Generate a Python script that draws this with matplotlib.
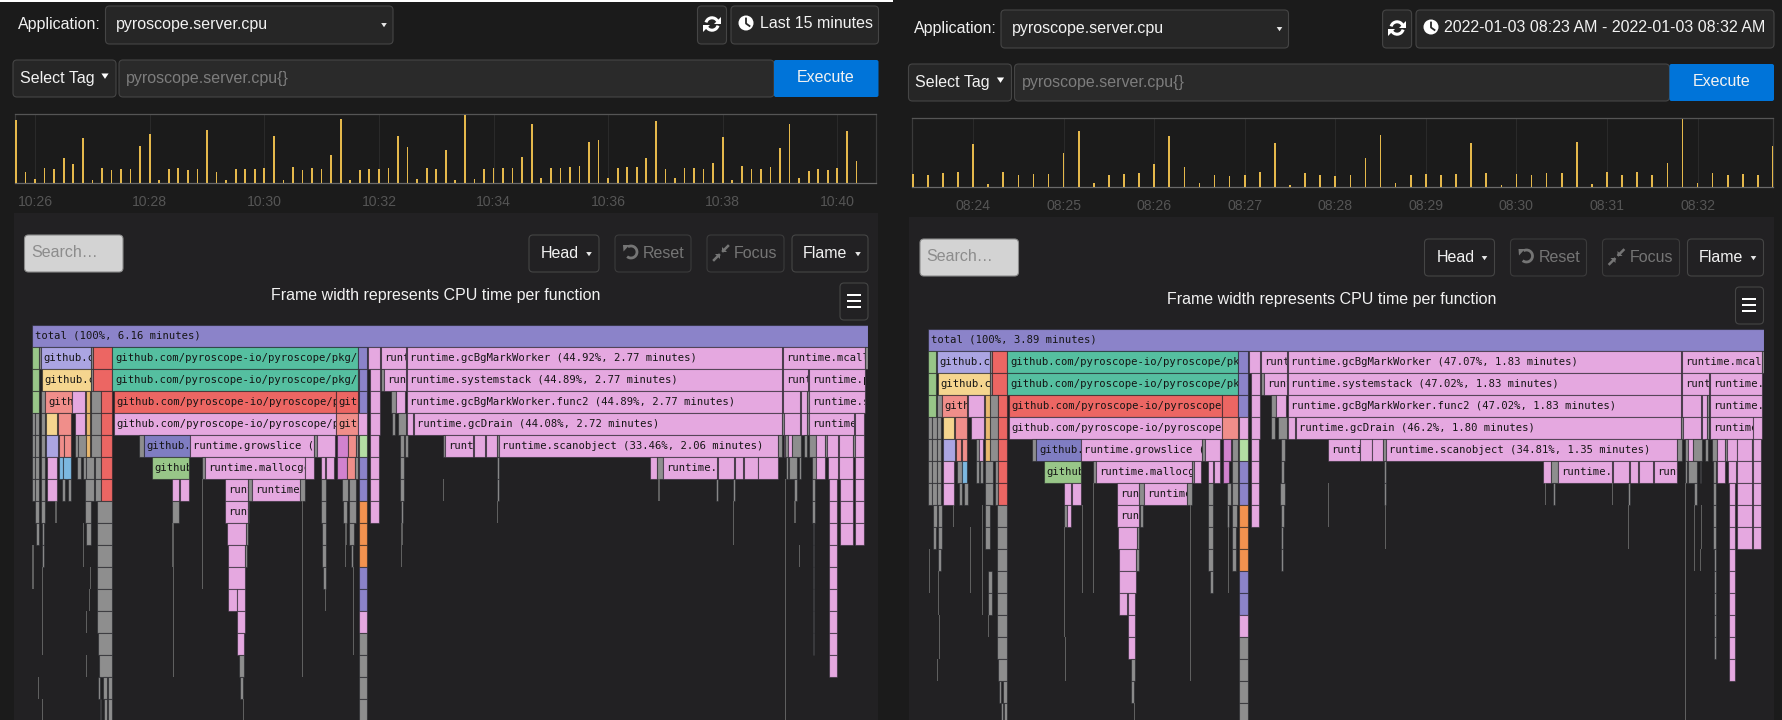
import math
import matplotlib
matplotlib.use("Agg")
import matplotlib.pyplot as plt
from matplotlib.patches import FancyBboxPatch, Rectangle, Polygon, Circle, Arc

APP = "pyroscope.server.cpu"
QUERY = "pyroscope.server.cpu{}"
TITLE = "Frame width represents CPU time per function"
RANGE_LEFT = "Last 15 minutes"
RANGE_RIGHT = "2022-01-03 08:23 AM - 2022-01-03 08:32 AM"

# ---- timeline samples (one every ten seconds) ----
LEFT_TICKS = ["10:26", "10:28", "10:30", "10:32", "10:34", "10:36", "10:38", "10:40"]
LEFT_TICK_MIN = [0, 2, 4, 6, 8, 10, 12, 14]
LEFT_SAMPLES = [190, 33, 13, 45, 41, 75, 57, 135, 9, 44, 38, 41, 41, 110, 146, 9, 43, 46, 40, 41,
                158, 33, 9, 43, 43, 43, 44, 142, 8, 49, 40, 46, 41, 85, 193, 9, 40, 41, 42, 46,
                140, 108, 13, 46, 41, 99, 9, 205, 12, 42, 46, 46, 46, 79, 177, 14, 45, 44, 49, 51,
                122, 128, 15, 46, 49, 47, 75, 187, 42, 15, 45, 46, 41, 60, 139, 8, 50, 42, 42, 48,
                106, 178, 15, 37, 43, 40, 45, 155, 67]
RIGHT_TICKS = ["08:24", "08:25", "08:26", "08:27", "08:28", "08:29", "08:30", "08:31", "08:32"]
RIGHT_TICK_MIN = [0, 1, 2, 3, 4, 5, 6, 7, 8]
RIGHT_SAMPLES = [40, 37, 42, 46, 130, 8, 44, 37, 40, 38, 103, 168, 12, 36, 40, 41, 70, 152, 60, 12,
                 35, 34, 37, 44, 132, 6, 42, 35, 34, 37, 87, 157, 11, 37, 38, 36, 40, 133, 41, 7,
                 40, 36, 43, 43, 136, 8, 46, 36, 44, 37, 71, 205, 12, 42, 36, 38, 36, 124]

# ---- flame graph frames per depth: (start, end, kind[, name]) in samples of 836 ----
GH = "github.com/pyroscope-io/pyroscope/pkg/storage"
L0 = [(0, 836, 'I', "total (100%, 6.16 minutes)")]
L1 = [(0, 7.3, 'g'), (7.3, 8.7, 'G'), (8.7, 58.7, 'V', "github.com"), (58.7, 61.3, 'G'), (61.3, 80.3, 'R'),
      (80.3, 325.7, 'T', GH), (325.7, 335.3, 'I'), (336, 348.3, 'P'), (348.7, 374.3, 'P', "runtime"),
      (374.7, 750.3, 'P', "runtime.gcBgMarkWorker (44.92%, 2.77 minutes)"),
      (750.7, 833.3, 'P', "runtime.mcall"), (833.3, 836, 'G')]
L2 = [(0, 7.3, 'g'), (9.7, 58.7, 'Y', "github.com"), (58.7, 61.3, 'G'), (61.3, 80.3, 'R'), (80.3, 325.7, 'T', GH),
      (325.7, 327.3, 'G'), (327.3, 335.3, 'I'), (338, 348.3, 'P'), (349, 352, 'G'), (352, 374.3, 'P', "runtime"),
      (374.7, 750.3, 'P', "runtime.systemstack (44.89%, 2.77 minutes)"),
      (750.7, 776.3, 'P', "runtime"), (776.7, 833, 'P', "runtime.park")]
L3 = [(0, 7.3, 'g'), (8.7, 13, 'G'), (13, 39.7, 'L', "github"), (40, 53.3, 'P'), (53.7, 58, 'A'), (58.7, 69.3, 'G'),
      (69.3, 80.3, 'R'), (81.7, 303.7, 'R', GH), (303.7, 325.7, 'R', "github"), (327.3, 335.3, 'I'), (338, 348.3, 'P'),
      (359.3, 363.7, 'G'), (363.7, 373, 'P'),
      (374.7, 750.3, 'P', "runtime.gcBgMarkWorker.func2 (44.89%, 2.77 minutes)"),
      (750.7, 768.3, 'P'), (768.7, 774.7, 'P'), (774.7, 776.7, 'G'), (776.7, 833, 'P', "runtime.schedule")]
L4 = [(0, 3.5, 'G'), (3.5, 7.3, 'G'), (8.7, 13, 'G'), (14, 25, 'Y'), (25.7, 39, 'L'), (43, 53.3, 'P'), (53.7, 58, 'A'),
      (58.7, 69.3, 'G'), (69.3, 80.3, 'R'), (81.7, 303.7, 'P', GH), (303.7, 325.7, 'L', "github"),
      (326.3, 335.3, 'P'), (338, 348.3, 'P'), (360, 363, 'G'), (366.3, 374, 'G'), (375, 381.3, 'P'),
      (381.7, 750.3, 'P', "runtime.gcDrain (44.08%, 2.72 minutes)"), (750.3, 752.3, 'G'),
      (752.3, 768.3, 'P'), (768.7, 774.7, 'P'), (774.7, 776.7, 'G'), (776.7, 822, 'P', "runtime.find"), (823, 832.3, 'P')]
L5 = [(0, 3.5, 'G'), (3.5, 7.3, 'G'), (8.7, 13, 'G'), (14, 26.3, 'V'), (27, 32.3, 'L'), (32.3, 39, 'L'), (43, 46.3, 'G'),
      (46.3, 53.7, 'G'), (53.7, 58, 'A'), (58.7, 69.3, 'G'), (69.3, 80.3, 'R'), (107.3, 111.7, 'G'),
      (111.7, 157.7, 'i', "github.com"), (157.7, 282.3, 'P', "runtime.growslice (4.5%)"), (282.3, 284.7, 'G'),
      (284.7, 303, 'P'), (304.7, 316.3, 'M'), (316.3, 323.7, 'L'), (323.7, 325.7, 'G'), (326.7, 334.7, 'Q'),
      (338, 347, 'P'), (368, 372, 'G'), (373, 376, 'G'), (410.7, 412.7, 'G'), (412.7, 441.3, 'P', "runtime"),
      (441.7, 453.3, 'P'), (453.7, 464.7, 'P'), (464.7, 467, 'G'),
      (467, 746.3, 'P', "runtime.scanobject (33.46%, 2.06 minutes)"), (746.3, 750.3, 'G'),
      (751.7, 753.3, 'P'), (753.3, 756, 'G'), (756, 760, 'P'), (760, 768.7, 'G'), (772, 775.3, 'G'), (777.3, 783.7, 'G'),
      (783.7, 793, 'P'), (793, 795.3, 'G'), (795.3, 806.3, 'P'), (807, 821.3, 'P'), (821.3, 823, 'G'), (823, 832.3, 'P')]
L6 = [(0, 3.5, 'G'), (3.5, 7.3, 'G'), (8.7, 13, 'G'), (14.7, 25.3, 'P'), (27.3, 31, 'U'), (31, 39, 'U'), (45.3, 49.3, 'G'),
      (51.3, 54, 'G'), (54, 62, 'G'), (63, 69.3, 'G'), (69.3, 80.3, 'R'), (119.7, 157.3, 'g', "github.com"),
      (169.7, 172.7, 'G'), (172.7, 272.7, 'P', "runtime.mallocgc"), (273.3, 282.3, 'P'), (288.7, 293.3, 'P'),
      (294, 302.3, 'P'), (304.7, 314.7, 'M'), (314.7, 323, 'L'), (323, 325.7, 'G'), (326.7, 334.7, 'I'), (338, 347, 'P'),
      (368, 372, 'G'), (465.3, 467.3, 'G'), (618, 624.7, 'P'), (624.7, 630.7, 'G'), (630.7, 685.3, 'P', "runtime.findObject"),
      (685.7, 702, 'P'), (702.7, 711.3, 'P'), (711.7, 725.7, 'P'), (726.3, 745.7, 'P'), (753.7, 756, 'G'),
      (756.7, 765, 'G'), (767.3, 768.7, 'G'), (779.7, 783.7, 'G'), (784.3, 793, 'P'), (795.7, 806.3, 'P'),
      (807, 821.3, 'P'), (823, 832.3, 'P')]
L7 = [(0, 3.5, 'G'), (3.5, 7.3, 'G'), (8.7, 13, 'G'), (14.7, 24.7, 'P'), (30, 33.3, 'G'), (35.7, 39.3, 'G'), (53, 62, 'G'),
      (63, 69.3, 'G'), (69.3, 80.3, 'R'), (140, 147.3, 'P'), (147.7, 157, 'P'), (170.3, 171.3, 'D'),
      (193.3, 216.3, 'P', "runtime"), (216.3, 220.3, 'G'), (220.3, 268, 'P', "runtime.next"), (268, 273, 'G'),
      (289.3, 294.3, 'G'), (310.3, 316.3, 'G'), (317, 323.7, 'G'), (326.7, 334.7, 'I'), (338, 347, 'P'), (368, 372, 'G'),
      (410.7, 412, 'D'), (465.3, 467, 'G'), (626.3, 627.7, 'D'), (684, 686, 'G'), (700.7, 702.7, 'G'), (753, 754, 'D'),
      (762, 764.7, 'G'), (780.3, 782.7, 'G'), (797, 805, 'P'), (807.7, 821.3, 'P'), (823, 832, 'P')]
L8 = [(3.3, 7.3, 'G'), (9.3, 13, 'G'), (23, 25, 'D'), (53, 58.7, 'G'), (64.7, 80.3, 'G'), (140, 147.3, 'G'), (170.3, 171.3, 'D'),
      (193.3, 216.3, 'P', "runtime"), (216.3, 217.3, 'G'), (269.7, 271.3, 'D'), (289.3, 294.3, 'G'), (311.3, 314.7, 'G'),
      (317, 323.7, 'G'), (326.7, 334.7, 'O'), (338, 347, 'P'), (368.7, 371.3, 'G'), (465.3, 466.3, 'D'), (700.7, 702, 'D'),
      (753, 754, 'D'), (762, 764, 'D'), (780.3, 782.7, 'G'), (797, 805, 'P'), (807.7, 821.3, 'P'), (823, 832, 'P')]
L9 = [(4, 7.3, 'G'), (9.7, 12.3, 'G'), (51.3, 52.3, 'D'), (54, 58.7, 'G'), (64.7, 80.3, 'G'), (140.3, 141.7, 'D'), (170.3, 171.3, 'D'),
      (195, 214, 'P'), (214, 216.3, 'G'), (270.3, 271.3, 'D'), (290, 293.7, 'G'), (313, 314.7, 'D'), (317, 322, 'G'),
      (326.7, 334.7, 'O'), (369.3, 370.7, 'D'), (701, 702, 'D'), (753, 754, 'D'), (780.7, 782.3, 'G'), (797, 805, 'P'),
      (807.7, 821.3, 'P'), (823, 832, 'P')]
L10 = [(.3, 1.7, 'D'), (9.7, 12, 'G'), (51, 52, 'D'), (64.7, 80.3, 'G'), (140.3, 141.7, 'D'), (170.3, 171.3, 'D'), (196, 213, 'P'),
       (213, 215.3, 'G'), (270.3, 271.3, 'D'), (289.7, 293.7, 'G'), (313, 314, 'D'), (319, 321.3, 'G'), (326.7, 334.7, 'O'),
       (369.3, 370.3, 'D'), (753, 754, 'D'), (767.3, 768.3, 'D'), (780.7, 782.3, 'G'), (797, 805, 'P')]
L11 = [(.3, 1.7, 'D'), (9.7, 10.7, 'D'), (58, 59, 'D'), (64.7, 80.3, 'G'), (140.7, 141.7, 'D'), (170.3, 171.3, 'D'), (196, 213, 'P'),
       (270, 271, 'D'), (291.3, 293.7, 'G'), (320.7, 321.7, 'D'), (326.7, 334.7, 'I'), (753, 754, 'D'), (780.7, 782.3, 'G'), (797, 805, 'P')]
L12 = [(9.7, 10.7, 'D'), (57, 58.5, 'D'), (64.7, 80.3, 'G'), (140.7, 141.7, 'D'), (196, 205, 'P'), (205.3, 213, 'P'), (270, 271, 'D'),
       (293, 294, 'D'), (320.7, 321.7, 'D'), (326.7, 334.7, 'I'), (753, 754, 'D'), (780.7, 782.3, 'G'), (797, 805, 'P')]
L13 = [(9.7, 10.7, 'D'), (54.5, 55.5, 'D'), (64.7, 80.3, 'G'), (140.7, 141.7, 'D'), (205.3, 213, 'P'), (270, 271, 'D'),
       (320.7, 321.7, 'D'), (326.7, 334.7, 'P'), (753, 754, 'D'), (780.7, 782.3, 'G'), (797, 805, 'P')]
L14 = [(9.7, 10.7, 'D'), (66.3, 80.3, 'G'), (141, 142, 'D'), (205.3, 212.3, 'P'), (270.5, 271.5, 'D'), (320.7, 321.7, 'D'),
       (326.7, 334.7, 'G'), (753, 754, 'D'), (780.7, 782.3, 'G'), (797, 805, 'P')]
L15 = [(54.5, 55.5, 'D'), (67.3, 79.7, 'G'), (141, 142, 'D'), (207.3, 212.3, 'G'), (270.5, 271.5, 'D'), (326.7, 334.7, 'G'),
       (753, 754, 'D'), (797, 805, 'P')]
L16 = [(6.3, 7.3, 'D'), (66.3, 68, 'G'), (70.7, 74.7, 'G'), (76.3, 79.7, 'G'), (208, 211.3, 'G'), (326.7, 334.7, 'G'), (753, 754, 'D')]
L17 = [(9.7, 10.7, 'D'), (68, 69, 'G'), (72, 74.7, 'G'), (76.3, 79.7, 'G'), (211.3, 212.3, 'D'), (326.7, 334.7, 'G'), (753, 754, 'D')]
LEFT_ROWS = [L0, L1, L2, L3, L4, L5, L6, L7, L8, L9, L10, L11, L12, L13, L14, L15, L16, L17]

GH2 = "github.com/pyroscope-io/pyroscope/pkg"
R0 = [(0, 836, 'I', "total (100%, 3.89 minutes)")]
R1 = [(0, 7.7, 'g'), (8.7, 62, 'V', "github.com"), (62, 64.3, 'G'), (64.3, 78.7, 'R'), (79, 310.3, 'T', GH2), (310.3, 320.3, 'I'),
      (321, 332.3, 'P'), (332.7, 359.3, 'P', "runtime"), (359.7, 753.3, 'P', "runtime.gcBgMarkWorker (47.07%, 1.83 minutes)"),
      (753.7, 833.7, 'P', "runtime.mcall"), (833.7, 836, 'G')]
R2 = [(0, 7.7, 'g'), (9.7, 62, 'Y', "github.com"), (62, 64.3, 'G'), (64.3, 78.7, 'R'), (79, 310.3, 'T', GH2), (310.3, 320.3, 'I'),
      (322.7, 332.3, 'P'), (333, 336, 'G'), (336, 359.3, 'P', "runtime"), (359.7, 753.3, 'P', "runtime.systemstack (47.02%, 1.83 minutes)"),
      (753.7, 781.3, 'P', "runtime"), (781.7, 833.7, 'P', "runtime.park")]
R3 = [(0, 7.7, 'g'), (8.7, 13.7, 'G'), (13.7, 39.3, 'L', "github"), (39.7, 56.3, 'P'), (56.7, 61.7, 'A'), (62, 70.3, 'G'), (70.3, 78.7, 'R'),
      (80.7, 293.7, 'R', GH2), (293.7, 310.3, 'R'), (310.3, 320.3, 'I'), (322.7, 332.3, 'P'), (343, 347.7, 'G'), (347.7, 358, 'P'),
      (359.7, 753.3, 'P', "runtime.gcBgMarkWorker.func2 (47.02%, 1.83 minutes)"), (754.3, 773.3, 'P'), (773.7, 779.3, 'P'),
      (779.3, 781.3, 'G'), (781.7, 833.7, 'P', "runtime.schedule")]
R4 = [(0, 4, 'G'), (4, 8.7, 'G'), (9.3, 13.3, 'G'), (14.7, 26, 'Y'), (26.7, 39.3, 'L'), (43, 56.3, 'P'), (56.7, 61.7, 'A'), (62, 70.3, 'G'),
      (70.3, 78.7, 'R'), (80.7, 293.7, 'P', GH2), (293.7, 310.3, 'L'), (311, 320.3, 'P'), (322.7, 332.3, 'P'), (343.3, 346.7, 'G'),
      (350.3, 359.3, 'G'), (360.3, 367, 'P'), (367.7, 753.3, 'P', "runtime.gcDrain (46.2%, 1.80 minutes)"), (753.3, 755.3, 'G'),
      (755.3, 773.3, 'P'), (773.7, 779.3, 'P'), (779.3, 781.3, 'G'), (781.7, 824.7, 'P', "runtime.find"), (825, 833.7, 'P')]
R5 = [(0, 4, 'G'), (4, 8.7, 'G'), (9.3, 13.3, 'G'), (14.7, 26.7, 'V'), (28.3, 33.3, 'L'), (34, 39.3, 'L'), (47.7, 50.7, 'G'), (51, 55.3, 'P'),
      (56.7, 61.7, 'A'), (62, 70.3, 'G'), (70.3, 78.7, 'R'), (104, 108.3, 'G'), (108.3, 152.7, 'i', "github.com"),
      (153, 273.7, 'P', "runtime.growslice (4.5%)"), (273.7, 276.7, 'G'), (276.7, 292.3, 'P'), (294.7, 303, 'M'), (303.7, 310, 'G'),
      (311, 320.3, 'Q'), (322.7, 331.3, 'P'), (352.7, 357.3, 'G'), (400.3, 431.7, 'P', "runtime"), (432, 443.7, 'P'), (444.3, 455.3, 'P'),
      (455.3, 457.7, 'G'), (457.7, 748.7, 'P', "runtime.scanobject (34.81%, 1.35 minutes)"), (748.7, 753.7, 'G'), (757, 759.7, 'G'),
      (759.7, 765.3, 'P'), (765.3, 773.7, 'G'), (777.3, 780, 'G'), (783.7, 788.7, 'G'), (788.7, 797.3, 'P'), (797.3, 799.3, 'G'),
      (799.3, 808.7, 'P'), (809.3, 823.7, 'P'), (824, 825.3, 'G'), (825.3, 833, 'P')]
R6 = [(0, 4, 'G'), (4, 8.7, 'G'), (9.3, 13.3, 'G'), (15.3, 26, 'P'), (28.7, 33.7, 'G'), (33.7, 39.3, 'U'), (48, 50.7, 'G'), (52, 55.3, 'G'),
      (57, 65.3, 'G'), (67, 70.3, 'G'), (70.3, 78.7, 'R'), (115.7, 153, 'g', "github.com"), (164.7, 168, 'G'),
      (168, 263.7, 'P', "runtime.mallocgc"), (263.7, 266, 'G'), (266, 273, 'P'), (280, 285.3, 'P'), (286, 292, 'P'), (294.7, 301.3, 'M'),
      (303.7, 310, 'G'), (311, 320.3, 'I'), (322.7, 331.3, 'P'), (352.7, 356.3, 'G'), (456, 458, 'G'), (615.3, 622.7, 'P'), (622.7, 629.7, 'G'),
      (629.7, 684.3, 'P', "runtime.findObject"), (684.7, 701.3, 'P'), (702, 710.3, 'P'), (711, 725.3, 'P'), (725.7, 748.7, 'P', "runtime"),
      (757.3, 759.3, 'G'), (760, 769.3, 'G'), (771.7, 773.3, 'G'), (785.3, 787.7, 'G'), (789, 797.3, 'P'), (799.7, 808, 'P'), (809.3, 823.7, 'P'),
      (825.3, 833, 'P')]
R7 = [(0, 4, 'G'), (4, 8.7, 'G'), (9.3, 13.3, 'G'), (15.3, 26, 'P'), (31.3, 34, 'G'), (36.3, 39.7, 'G'), (57, 65.3, 'G'), (67, 70.3, 'G'),
      (70.3, 78.7, 'R'), (135.7, 143.3, 'P'), (143.7, 152.7, 'P'), (165.3, 166.3, 'D'), (189.3, 211.3, 'P', "runtime"), (211.3, 215.7, 'G'),
      (215.7, 259.3, 'P', "runtime.next"), (259.3, 263.7, 'G'), (280.3, 285.3, 'G'), (299, 303.3, 'G'), (304, 310, 'G'), (311, 320.3, 'I'),
      (322.7, 331.3, 'P'), (352, 357, 'G'), (399.7, 400.7, 'D'), (456.3, 458, 'G'), (617.3, 618.3, 'D'), (625.3, 626.7, 'G'), (684, 685, 'D'),
      (699.7, 701.7, 'G'), (757, 758, 'D'), (766, 769.3, 'G'), (785.3, 787.7, 'G'), (801, 807.3, 'P'), (809.3, 823.7, 'P'), (825.3, 833, 'P')]
R8 = [(5.3, 8.7, 'G'), (9.7, 13.7, 'G'), (24.7, 25.7, 'D'), (53.7, 54.7, 'D'), (57, 62, 'G'), (68.7, 79.3, 'G'), (135.7, 138.7, 'G'),
      (138.7, 143.3, 'P'), (153.7, 154.7, 'D'), (165.3, 166.3, 'D'), (189.3, 210.7, 'P', "runtime"), (212, 215.3, 'G'), (262, 263, 'D'),
      (280.3, 285.3, 'G'), (299.3, 300.7, 'G'), (304, 309.3, 'G'), (311, 320.3, 'O'), (322.7, 331.3, 'P'), (352.7, 356.3, 'G'),
      (399.7, 400.7, 'D'), (456.7, 457.7, 'D'), (700, 701, 'D'), (757, 758, 'D'), (766, 767, 'D'), (772.7, 773.7, 'D'), (785.3, 787.7, 'G'),
      (801, 807.3, 'P'), (809.3, 823.7, 'P'), (825.3, 833, 'P')]
R9 = [(5.3, 7.7, 'G'), (9.7, 13.7, 'G'), (42, 43, 'D'), (53.7, 55.3, 'D'), (57, 62, 'G'), (68.7, 79.3, 'G'), (136.3, 137.3, 'D'), (153.7, 154.7, 'D'),
      (165.3, 166.3, 'D'), (190.3, 209.3, 'P'), (209.3, 211.3, 'G'), (262, 263, 'D'), (280.3, 285.3, 'G'), (300, 301, 'D'), (304, 308, 'G'),
      (311, 320.3, 'O'), (353.3, 355.3, 'G'), (456.7, 457.7, 'D'), (700, 701, 'D'), (757, 758, 'D'), (766, 767, 'D'), (772.7, 773.7, 'D'),
      (785.3, 787.7, 'G'), (801, 807.3, 'P'), (809.3, 823.7, 'P'), (825.3, 833, 'P')]
R10 = [(.7, 1.7, 'D'), (10.3, 12.7, 'G'), (42, 43, 'D'), (53.7, 54.7, 'D'), (68.7, 79.3, 'G'), (136.3, 137.3, 'D'), (153.7, 154.7, 'D'), (165.3, 166.3, 'D'),
       (191, 208, 'P'), (208, 210.7, 'G'), (262, 263, 'D'), (280.3, 285.3, 'G'), (300, 301, 'D'), (304, 308, 'G'), (311, 320.3, 'O'), (353.3, 354.7, 'G'),
       (757, 758, 'D'), (765.7, 766.7, 'D'), (772.3, 773.3, 'D'), (786, 787.7, 'G'), (801, 807.3, 'P')]
R11 = [(.7, 1.7, 'D'), (10.3, 11.3, 'D'), (42, 43, 'D'), (53.7, 54.7, 'D'), (60.3, 63.7, 'G'), (68.7, 79.3, 'G'), (136.3, 137.3, 'D'), (153.7, 154.7, 'D'),
       (165.3, 166.3, 'D'), (191.3, 208, 'P'), (262, 263, 'D'), (282, 284.7, 'G'), (300, 301, 'D'), (311, 320.3, 'I'), (757, 758, 'D'), (786, 787.7, 'G'),
       (801, 807.3, 'P')]
R12 = [(9.7, 10.7, 'D'), (53.7, 54.7, 'D'), (60.3, 63.7, 'G'), (68.7, 79.3, 'G'), (136.3, 137.3, 'D'), (191.3, 199.3, 'P'), (200, 207.3, 'P'), (262, 263, 'D'),
       (311, 320.3, 'I'), (757, 758, 'D'), (786, 787.7, 'G'), (801, 807.3, 'P')]
R13 = [(11.3, 12.3, 'D'), (60.3, 61.3, 'D'), (68.7, 79.3, 'G'), (136.3, 137.3, 'D'), (200, 207.3, 'P'), (262, 263, 'D'), (311, 320.3, 'P'), (757, 758, 'D'),
       (786, 787.7, 'G'), (801, 807.3, 'P')]
R14 = [(11.3, 12.3, 'D'), (68.7, 79.3, 'G'), (137, 138, 'D'), (200, 207.3, 'P'), (262, 263, 'D'), (311, 320.3, 'G'), (757, 758, 'D'), (786, 787.7, 'G'),
       (801, 807.3, 'P')]
R15 = [(8.7, 9.7, 'D'), (70.3, 78.7, 'G'), (137, 138, 'D'), (202.7, 207, 'G'), (262, 263, 'D'), (311, 320.3, 'G'), (757, 758, 'D'), (801, 807.3, 'P')]
R16 = [(71.3, 73, 'G'), (75.3, 78.7, 'G'), (203, 206.3, 'G'), (311, 320.3, 'G'), (757, 758, 'D')]
R17 = [(72.7, 74.7, 'G'), (76, 79.3, 'G'), (206.3, 207.3, 'D'), (311, 320.3, 'G'), (757, 758, 'D')]
RIGHT_ROWS = [R0, R1, R2, R3, R4, R5, R6, R7, R8, R9, R10, R11, R12, R13, R14, R15, R16, R17]

KIND_COLORS = {'P': '#E5A8E0', 'G': '#8E8E8E', 'D': '#5F5F5F', 'T': '#55BFA0', 'R': '#EC6663', 'L': '#F08E8A', 'V': '#ABA5E2',
               'I': '#8B83C9', 'i': '#7F7DC2', 'Y': '#F5D58F', 'g': '#98C688', 'O': '#F3924F', 'U': '#7CB8E0', 'M': '#D182CE',
               'A': '#E9B86F', 'Q': '#B3DDA3'}
FONT = ["Liberation Sans", "DejaVu Sans"]
W, H = 1783, 720
PAGE, PANEL, BTN, EDGE = '#1B1B1B', '#222123', '#262626', '#454545'
DIM = '#757575'
CHAR_W = 6.33

fig = plt.figure(figsize=(W / 100, H / 100), dpi=100, facecolor=PAGE)
ui = fig.add_axes([0, 0, 1, 1], zorder=0)
ui.set_xlim(0, W)
ui.set_ylim(H, 0)
ui.axis('off')


def box(x0, y0, x1, y1, fc=BTN, ec=EDGE, r=4, z=2):
    ui.add_patch(FancyBboxPatch((x0, y0), x1 - x0, y1 - y0, boxstyle=f"round,pad=0,rounding_size={r}",
                                fc=fc, ec=ec, lw=0.8, zorder=z))


def label(x, y, s, px=16, color='#F2F2F2', ha='left', z=4):
    ui.text(x, y, s, fontsize=px * 0.72, color=color, ha=ha, va='center', family=FONT, zorder=z)


def caret(x, y, s=2.8, color='#E8E8E8'):
    ui.add_patch(Polygon([(x - s, y - s * .7), (x + s, y - s * .7), (x, y + s * .8)], closed=True, fc=color, ec='none', zorder=4))


def clock(x, y, r=7.5):
    ui.add_patch(Circle((x, y), r, fc='white', ec='none', zorder=4))
    ui.plot([x, x, x + 3.5], [y - 4.5, y + .5, y + 3], color=BTN, lw=1.3, zorder=5)


def refresh(x, y, r=6.2):
    ui.add_patch(Arc((x, y), 2 * r, 2 * r, theta1=195, theta2=335, color='white', lw=2.2, zorder=4))
    ui.add_patch(Arc((x, y), 2 * r, 2 * r, theta1=15, theta2=155, color='white', lw=2.2, zorder=4))
    ui.add_patch(Polygon([(x + r + 2.5, y - 7.5), (x + r + 2.5, y - .5), (x + r - 4.5, y - .5)], closed=True, fc='white', ec='none', zorder=4))
    ui.add_patch(Polygon([(x - r - 2.5, y + 7.5), (x - r - 2.5, y + .5), (x - r + 4.5, y + .5)], closed=True, fc='white', ec='none', zorder=4))


def reset_icon(x, y, color=DIM, r=6):
    ui.add_patch(Arc((x, y), 2 * r, 2 * r, theta1=-120, theta2=130, color=color, lw=2, zorder=4))
    ui.add_patch(Polygon([(x - 8, y - 7), (x - 1.5, y - 7), (x - 7.5, y - .5)], closed=True, fc=color, ec='none', zorder=4))


def focus_icon(x, y, color=DIM):
    ui.plot([x - 7, x - 2], [y + 7, y + 2], color=color, lw=1.8, zorder=4)
    ui.plot([x + 2, x + 7], [y - 2, y - 7], color=color, lw=1.8, zorder=4)
    ui.add_patch(Polygon([(x - 1, y + 1), (x - 6, y + 1), (x - 1, y + 6)], closed=True, fc=color, ec='none', zorder=4))
    ui.add_patch(Polygon([(x + 1, y - 1), (x + 6, y - 1), (x + 1, y - 6)], closed=True, fc=color, ec='none', zorder=4))


def header(dx, dy, refresh_x, range_x, range_right, range_text, text_x, clock_x):
    label(18 + dx, 24 + dy, "Application:")
    box(105.5 + dx, 6 + dy, 393 + dx, 44 + dy)
    label(116 + dx, 24 + dy, APP)
    caret(384 + dx, 25 + dy)
    box(refresh_x, 6 + dy, refresh_x + 29, 44 + dy)
    refresh(refresh_x + 14.5, 24 + dy)
    box(range_x, 6 + dy, range_right, 44 + dy)
    clock(clock_x, 23 + dy)
    label(text_x, 24 + dy, range_text)
    box(13 + dx, 60 + dy, 116 + dx, 97 + dy)
    label(20 + dx, 78 + dy, "Select Tag")
    caret(105 + dx, 76 + dy, 3.6, 'white')
    box(119 + dx, 60 + dy, 774 + dx, 97 + dy, fc='#2A2A2A')
    label(126 + dx, 79 + dy, QUERY, color='#7D7D7D')
    ui.add_patch(FancyBboxPatch((774 + dx, 60 + dy), 104.5, 37, boxstyle="round,pad=0,rounding_size=2", fc='#0074D9', ec='none', zorder=3))
    label(826 + dx, 77 + dy, "Execute", ha='center')
    # flame panel
    ui.add_patch(Rectangle((14 + dx, 213 + dy), 864.5, H, fc=PANEL, ec='none', zorder=1))
    box(24.5 + dx, 235 + dy, 123 + dx, 272 + dy, fc='#D3D3D3', ec='#8A8A8A')
    label(31 + dx, 252.5 + dy, "Search\u2026", color='#8C8C8C')
    box(529 + dx, 235 + dy, 599 + dx, 272 + dy, fc=PANEL)
    label(541 + dx, 253 + dy, "Head")
    caret(589 + dx, 254 + dy)
    box(615 + dx, 235 + dy, 691 + dx, 272 + dy, fc=PANEL, ec='#3B3B3B')
    reset_icon(631 + dx, 252 + dy)
    label(643 + dx, 253 + dy, "Reset", color=DIM)
    box(707 + dx, 235 + dy, 784 + dx, 272 + dy, fc=PANEL, ec='#3B3B3B')
    focus_icon(721 + dx, 253 + dy)
    label(734 + dx, 253 + dy, "Focus", color=DIM)
    box(792 + dx, 235 + dy, 868 + dx, 272 + dy, fc=PANEL)
    label(803 + dx, 253 + dy, "Flame")
    caret(858 + dx, 254 + dy)
    label(436 + dx, 295.5 + dy, TITLE, ha='center')
    box(840 + dx, 283 + dy, 868 + dx, 320 + dy, fc=PANEL)
    for yy in (295, 301, 307):
        ui.add_patch(Rectangle((847 + dx, yy + dy - 1.2), 14, 2.4, fc='white', ec='none', zorder=4))


def timeline(x0, x1, y0, y1, samples, tick_pos, tick_lab, first, last_view, bar_w):
    ax = fig.add_axes([x0 / W, 1 - y1 / H, (x1 - x0) / W, (y1 - y0) / H], zorder=3)
    ax.set_facecolor('none')
    minutes = [first + i / 6 for i in range(len(samples))]
    ax.bar(minutes, samples, width=bar_w, color='#E5B84B', linewidth=0, zorder=3)
    ax.set_xlim(first - 0.012, last_view)
    ax.set_ylim(0, 207)
    ax.set_yticks([])
    ax.set_xticks(tick_pos)
    ax.set_xticklabels(tick_lab, fontsize=14 * .72, color='#555555', family=FONT)
    ax.tick_params(axis='x', length=0, pad=9)
    ax.grid(axis='x', color='#2B2B2B', lw=0.7, zorder=0)
    for side, col in (('top', '#555555'), ('bottom', '#6A6A6A'), ('left', '#3A3A3A'), ('right', '#3A3A3A')):
        ax.spines[side].set_color(col)
        ax.spines[side].set_linewidth(0.9)


def flame(x0, y0, rows):
    ax = fig.add_axes([x0 / W, 1 - (y0 + 22 * len(rows)) / H, 836 / W, 22 * len(rows) / H], zorder=3)
    ax.axis('off')
    ax.set_xlim(0, 836)
    ax.set_ylim(len(rows), 0)
    for depth, row in enumerate(rows):
        for fr in row:
            kind = fr[2]
            thin = kind == 'D'
            bars = ax.barh(depth + .5, fr[1] - fr[0], left=fr[0], height=1, color=KIND_COLORS[kind],
                           edgecolor='none' if thin else (0.13, 0.13, 0.15, 0.55), linewidth=0 if thin else 0.8)
            if len(fr) > 3:
                fit = math.ceil((fr[1] - fr[0] - 3) / CHAR_W)
                t = ax.text(fr[0] + 3, depth + .5, fr[3][:fit], fontsize=10.55 * .72, family="DejaVu Sans Mono",
                            color='#151515', va='center', ha='left')
                t.set_clip_on(True)
                t.set_clip_path(bars[0])


header(0, 0, 697.5, 731, 878.5, RANGE_LEFT, 760, 746)
header(895.5, 4, 1382.6, 1416, 1774, RANGE_RIGHT, 1444, 1431)
timeline(15.3, 876.3, 114, 183, LEFT_SAMPLES, LEFT_TICK_MIN, LEFT_TICKS, -1 / 3, 14.68, 0.03)
timeline(911.6, 1772.7, 118, 187, RIGHT_SAMPLES, RIGHT_TICK_MIN, RIGHT_TICKS, -2 / 3, 8.83, 0.018)
flame(32, 325, LEFT_ROWS)
flame(928, 329, RIGHT_ROWS)
ui.add_patch(Rectangle((0, 0), 893, 2, fc='white', ec='none', zorder=6))

fig.savefig("out.png", dpi=100, facecolor=PAGE)
